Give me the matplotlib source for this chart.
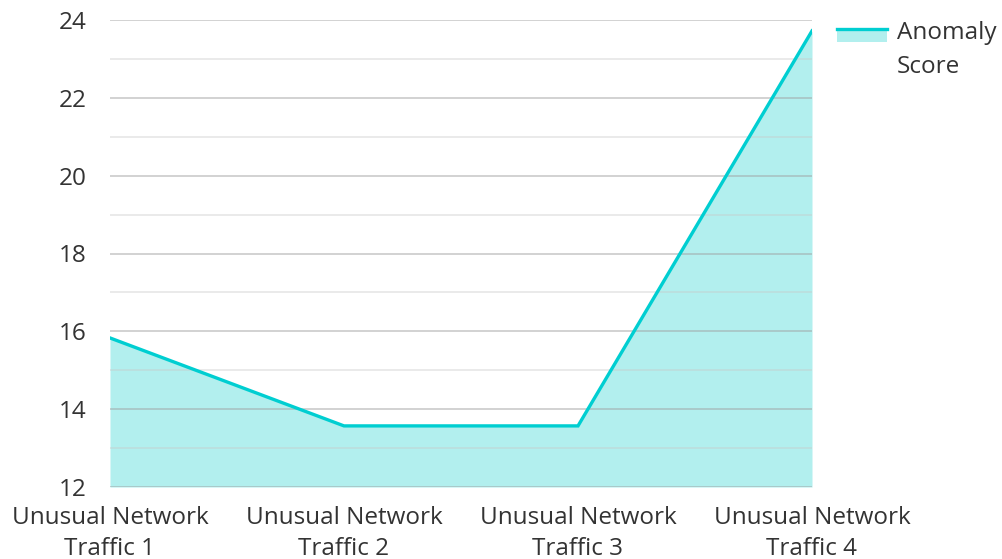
import matplotlib.pyplot as plt
from matplotlib.patches import Rectangle
from matplotlib.lines import Line2D
from matplotlib.legend_handler import HandlerBase

plt.rcParams['font.family'] = ['Open Sans', 'DejaVu Sans']

categories = ["Unusual Network\nTraffic 1", "Unusual Network\nTraffic 2",
              "Unusual Network\nTraffic 3", "Unusual Network\nTraffic 4"]
scores = [15.83, 13.57, 13.57, 23.72]
series_name = "Anomaly\nScore"

line_col = '#00CED1'
fill_col = '#b2efee'


class AreaHandler(HandlerBase):
    # line on the top edge of a filled patch, lifted to sit by the first text line
    def create_artists(self, legend, orig, xd, yd, w, h, fontsize, trans):
        y0 = -yd + 11
        r = Rectangle((-xd, y0), w, h, facecolor=fill_col, edgecolor='none', transform=trans)
        l = Line2D([-xd, -xd + w], [y0 + h - 1, y0 + h - 1], color=line_col, lw=2.4, transform=trans)
        return [r, l]


fig = plt.figure(figsize=(10.02, 5.59), dpi=100)
ax = fig.add_axes([110/1002, 1 - 487/559, 702/1002, 467/559])

x = list(range(len(categories)))
ax.fill_between(x, scores, 12, color=fill_col, lw=0, zorder=1)
ax.plot(x, scores, color=line_col, lw=2.4, zorder=3, solid_joinstyle='miter')

ax.set_xlim(0, len(categories) - 1)
ax.set_ylim(12, 24)
ax.set_yticks(range(12, 25, 2))
ax.set_yticks(range(13, 24, 2), minor=True)
ax.set_xticks(x)
ax.set_xticklabels(categories, linespacing=1.35)

ax.grid(axis='y', which='major', color='#a0a0a0', alpha=0.55, lw=1.2, zorder=2)
ax.grid(axis='y', which='minor', color='#c8c8c8', alpha=0.45, lw=1.2, zorder=2)
ax.set_axisbelow(False)
for s in ax.spines.values():
    s.set_visible(False)
ax.tick_params(which='both', length=0, labelsize=17.5, colors='#333333')
ax.tick_params(axis='x', pad=14)
ax.tick_params(axis='y', pad=17)

leg = fig.legend([object()], [series_name], loc='upper left', bbox_to_anchor=(827/1002, 1 - 11/559),
                 frameon=False, fontsize=17.5, handler_map={object: AreaHandler()},
                 handlelength=2.07, handleheight=0.54, handletextpad=0.4, borderaxespad=0,
                 labelspacing=0)
for t in leg.get_texts():
    t.set_color('#333333')
    t.set_linespacing(1.55)

fig.savefig('out.png', dpi=100)
